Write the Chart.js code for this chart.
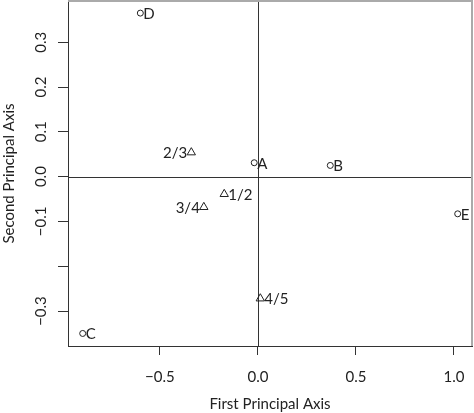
<!DOCTYPE html>
<html>
<head>
<meta charset="utf-8">
<script src="https://cdn.jsdelivr.net/npm/chart.js@4"></script>
<style>
  html, body { margin: 0; padding: 0; background: #fff; }
</style>
</head>
<body>
<canvas id="myChart" width="474" height="413"></canvas>
<script>
"use strict";
// circles: sites A..E
const circleNames = ["A", "B", "C", "D", "E"];
const circleX = [-0.019, 0.369, -0.894, -0.600, 1.019];
const circleY = [0.031, 0.025, -0.350, 0.365, -0.083];
// triangles: transitions
const triangleNames = ["1/2", "2/3", "3/4", "4/5"];
const triangleX = [-0.172, -0.340, -0.276, 0.012];
const triangleY = [-0.039, 0.054, -0.068, -0.272];
const triangleSide = ["right", "left", "left", "right"];

const xTicks = [-0.5, 0.0, 0.5, 1.0];
const xTickLabels = ["\u22120.5", "0.0", "0.5", "1.0"];
const yTicks = [-0.3, -0.2, -0.1, 0.0, 0.1, 0.2, 0.3];
const yTickLabels = ["\u22120.3", "", "\u22120.1", "0.0", "0.1", "0.2", "0.3"];

const FONT = "Lato";
const FSIZE = 15;
const INK = "#222";

let canvas = document.getElementById("myChart");
let ctx = canvas.getContext("2d");

function toPoints(xs, ys) {
    return xs.map((x, i) => ({ x: x, y: ys[i] }));
}

function noPadding(s) {
    s.paddingTop = 0;
    s.paddingBottom = 0;
    s.paddingLeft = 0;
    s.paddingRight = 0;
}

// zero lines and the box around the plot
const framePlugin = {
    id: "frame",
    beforeDatasetsDraw(chart) {
        const c = chart.ctx;
        const a = chart.chartArea;
        const x0 = Math.round(chart.scales.x.getPixelForValue(0)) + 0.5;
        const y0 = Math.round(chart.scales.y.getPixelForValue(0)) + 0.5;
        c.save();
        c.lineWidth = 1;
        c.strokeStyle = "#333";
        c.beginPath();
        c.moveTo(x0, a.top);
        c.lineTo(x0, a.bottom);
        c.moveTo(a.left, y0);
        c.lineTo(a.right, y0);
        c.stroke();
        c.strokeStyle = "#aaa";
        c.lineWidth = 2;
        c.beginPath();
        c.moveTo(a.left, a.top);
        c.lineTo(a.right, a.top);
        c.lineTo(a.right, a.bottom);
        c.stroke();
        c.restore();
    }
};

// text beside each marker
const labelPlugin = {
    id: "pointLabels",
    afterDatasetsDraw(chart) {
        const c = chart.ctx;
        c.save();
        c.font = FSIZE + "px " + FONT;
        c.fillStyle = INK;
        c.textBaseline = "middle";
        chart.getDatasetMeta(0).data.forEach((el, i) => {
            c.textAlign = "left";
            c.fillText(circleNames[i], el.x + 3, el.y + 1);
        });
        chart.getDatasetMeta(1).data.forEach((el, i) => {
            if (triangleSide[i] == "left") {
                c.textAlign = "right";
                c.fillText(triangleNames[i], el.x - 4, el.y + 1);
            } else {
                c.textAlign = "left";
                c.fillText(triangleNames[i], el.x + 4, el.y + 1);
            }
        });
        c.restore();
    }
};

const myChart = new Chart(ctx, {
    type: "scatter",
    data: {
        datasets: [{
            label: "sites",
            data: toPoints(circleX, circleY),
            pointStyle: "circle",
            pointRadius: 3,
            borderColor: INK,
            backgroundColor: "rgba(0,0,0,0)",
            borderWidth: 1
        }, {
            label: "transitions",
            data: toPoints(triangleX, triangleY),
            pointStyle: "triangle",
            pointRadius: 4.8,
            borderColor: INK,
            backgroundColor: "rgba(0,0,0,0)",
            borderWidth: 1
        }]
    },
    options: {
        responsive: false,
        animation: false,
        layout: { autoPadding: false, padding: { top: 1, right: 2, left: 0, bottom: 0 } },
        plugins: {
            legend: { display: false },
            tooltip: { enabled: false }
        },
        scales: {
            x: {
                type: "linear",
                min: -0.969,
                max: 1.092,
                afterBuildTicks: s => { s.ticks = xTicks.map(v => ({ value: v })); },
                afterFit: s => { s.height = 67; noPadding(s); },
                ticks: {
                    callback: (v, i) => xTickLabels[i],
                    font: { family: FONT, size: FSIZE },
                    color: INK,
                    padding: 13,
                    maxRotation: 0
                },
                grid: { drawOnChartArea: false, drawTicks: true, tickLength: 9, color: "#333" },
                border: { display: true, color: "#333" },
                title: {
                    display: true,
                    text: "First Principal Axis",
                    font: { family: FONT, size: FSIZE },
                    color: INK,
                    padding: 0
                }
            },
            y: {
                type: "linear",
                min: -0.378,
                max: 0.392,
                afterBuildTicks: s => { s.ticks = yTicks.map(v => ({ value: v })); },
                afterFit: s => { s.width = 68; noPadding(s); },
                ticks: {
                    callback: (v, i) => yTickLabels[i],
                    font: { family: FONT, size: FSIZE },
                    color: INK,
                    padding: 2,
                    minRotation: 90,
                    maxRotation: 90,
                    crossAlign: "center"
                },
                grid: { drawOnChartArea: false, drawTicks: true, tickLength: 10, color: "#333" },
                border: { display: true, color: "#333" },
                title: {
                    display: true,
                    text: "Second Principal Axis",
                    font: { family: FONT, size: FSIZE },
                    color: INK,
                    padding: 0
                }
            }
        }
    },
    plugins: [framePlugin, labelPlugin]
});
</script>
</body>
</html>
